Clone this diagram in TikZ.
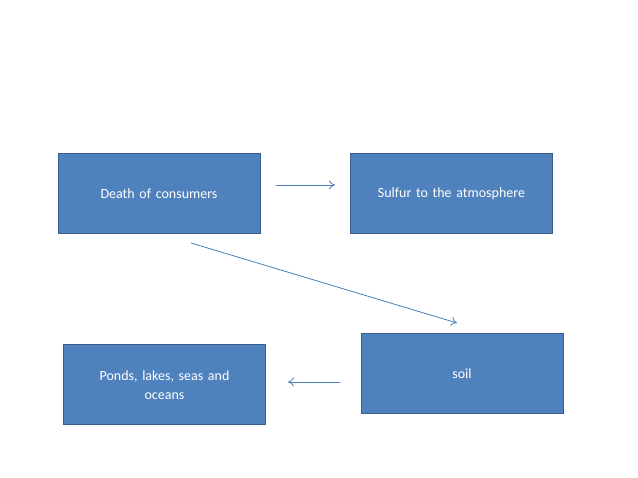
\documentclass[tikz,border=0pt]{standalone}
\usepackage{fontspec}
\setmainfont{Carlito}
\usetikzlibrary{arrows.meta}
\definecolor{boxfill}{HTML}{4F81BD}
\definecolor{boxline}{HTML}{385D8A}
\definecolor{arr}{HTML}{4A7EBB}
\begin{document}
\begin{tikzpicture}[x=1pt,y=-1pt,
  box/.style={draw=boxline,line width=1pt,fill=boxfill,text=white,font=\fontsize{14}{19}\selectfont,align=center,inner sep=0pt,minimum width=202pt,minimum height=80pt,text width=160pt},
  conn/.style={draw=arr,line width=0.8pt,-{To[length=6pt,width=9pt]}}]
\useasboundingbox (0,0) rectangle (638,478);
\node[box] (a) at (159,193.5) {Death of consumers};
\node[box] (b) at (451.5,193.5) {Sulfur to the atmosphere};
\node[box] (c) at (462,374) {soil\\[10pt]};
\node[box] (d) at (164.5,385) {Ponds, lakes, seas and\\oceans};
\coordinate (a1) at (276,185); \coordinate (b1) at (335,185);
\coordinate (a2) at (191,243); \coordinate (c2) at (457,323);
\coordinate (c3) at (340,382); \coordinate (d3) at (288,382);
\draw[conn] (a1) -- (b1);
\draw[conn] (a2) -- (c2);
\draw[conn] (c3) -- (d3);
\end{tikzpicture}
\end{document}
